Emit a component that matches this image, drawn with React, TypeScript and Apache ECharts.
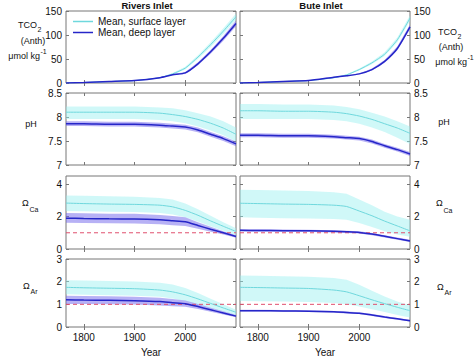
import React, { useEffect, useRef } from 'react';
import * as echarts from 'echarts';

const YEARS = [1765, 1800, 1850, 1900, 1950, 1975, 2000, 2025, 2050, 2075, 2100];
const X_TICKS = [1800, 1900, 2000];

// Rivers Inlet — anthropogenic TCO2
const RIV_TCO2_SURF = [0, 1, 3, 5, 11, 19, 31, 54, 80, 108, 138];
const RIV_TCO2_SURF_LO = [0, 1, 3, 5, 10, 17, 28, 50, 75, 102, 131];
const RIV_TCO2_SURF_HI = [0, 1, 3, 5, 12, 21, 34, 58, 85, 114, 145];
const RIV_TCO2_DEEP = [0, 1, 3, 5, 11, 17, 21, 40, 65, 93, 124];
const RIV_TCO2_DEEP_LO = [0, 1, 3, 5, 10, 16, 19, 37, 61, 88, 118];
const RIV_TCO2_DEEP_HI = [0, 1, 3, 5, 12, 18, 23, 43, 69, 98, 130];
// Bute Inlet — anthropogenic TCO2
const BUT_TCO2_SURF = [0, 1, 3, 5, 11, 17, 28, 42, 60, 90, 135];
const BUT_TCO2_SURF_LO = [0, 1, 3, 5, 10, 16, 26, 39, 56, 85, 129];
const BUT_TCO2_SURF_HI = [0, 1, 3, 5, 12, 18, 30, 45, 64, 95, 141];
const BUT_TCO2_DEEP = [0, 1, 3, 5, 12, 15, 19, 28, 45, 72, 117];
const BUT_TCO2_DEEP_LO = [0, 1, 3, 5, 11, 14, 18, 26, 42, 68, 112];
const BUT_TCO2_DEEP_HI = [0, 1, 3, 5, 13, 16, 20, 30, 48, 76, 122];

// pH
const RIV_PH_SURF = [8.1, 8.1, 8.1, 8.1, 8.08, 8.05, 8.01, 7.95, 7.87, 7.77, 7.64];
const RIV_PH_SURF_LO = [7.96, 7.96, 7.96, 7.96, 7.94, 7.91, 7.87, 7.8, 7.72, 7.62, 7.49];
const RIV_PH_SURF_HI = [8.22, 8.22, 8.22, 8.22, 8.2, 8.18, 8.14, 8.08, 8.01, 7.91, 7.78];
const RIV_PH_DEEP = [7.86, 7.86, 7.85, 7.85, 7.83, 7.81, 7.79, 7.73, 7.64, 7.55, 7.44];
const RIV_PH_DEEP_LO = [7.81, 7.81, 7.8, 7.8, 7.78, 7.76, 7.74, 7.68, 7.59, 7.5, 7.39];
const RIV_PH_DEEP_HI = [7.91, 7.91, 7.9, 7.9, 7.88, 7.86, 7.84, 7.78, 7.69, 7.6, 7.49];
const BUT_PH_SURF = [8.13, 8.13, 8.12, 8.12, 8.1, 8.07, 8.02, 7.95, 7.86, 7.77, 7.66];
const BUT_PH_SURF_LO = [7.96, 7.96, 7.96, 7.96, 7.94, 7.91, 7.86, 7.78, 7.69, 7.57, 7.44];
const BUT_PH_SURF_HI = [8.27, 8.27, 8.26, 8.26, 8.24, 8.21, 8.16, 8.09, 8.01, 7.91, 7.8];
const BUT_PH_DEEP = [7.62, 7.62, 7.61, 7.61, 7.59, 7.57, 7.55, 7.49, 7.4, 7.32, 7.23];
const BUT_PH_DEEP_LO = [7.58, 7.58, 7.57, 7.57, 7.55, 7.53, 7.51, 7.45, 7.36, 7.28, 7.19];
const BUT_PH_DEEP_HI = [7.66, 7.66, 7.65, 7.65, 7.63, 7.61, 7.59, 7.53, 7.44, 7.36, 7.27];

// Omega calcite
const RIV_CA_SURF = [2.83, 2.8, 2.77, 2.75, 2.7, 2.6, 2.38, 2.08, 1.73, 1.4, 1.08];
const RIV_CA_SURF_LO = [2.35, 2.33, 2.3, 2.28, 2.22, 2.12, 1.95, 1.7, 1.4, 1.12, 0.85];
const RIV_CA_SURF_HI = [3.3, 3.28, 3.25, 3.22, 3.15, 3.05, 2.8, 2.45, 2.05, 1.65, 1.28];
const RIV_CA_DEEP = [1.9, 1.88, 1.86, 1.85, 1.8, 1.74, 1.68, 1.45, 1.22, 1.0, 0.77];
const RIV_CA_DEEP_LO = [1.62, 1.6, 1.58, 1.57, 1.52, 1.47, 1.42, 1.25, 1.07, 0.9, 0.7];
const RIV_CA_DEEP_HI = [2.22, 2.2, 2.18, 2.17, 2.1, 2.03, 1.95, 1.65, 1.37, 1.1, 0.84];
const BUT_CA_SURF = [2.82, 2.8, 2.77, 2.75, 2.7, 2.62, 2.34, 2.05, 1.72, 1.42, 1.12];
const BUT_CA_SURF_LO = [1.95, 1.93, 1.9, 1.88, 1.85, 1.8, 1.6, 1.35, 1.1, 0.9, 0.75];
const BUT_CA_SURF_HI = [3.65, 3.63, 3.6, 3.57, 3.5, 3.4, 3.05, 2.7, 2.3, 2.0, 1.8];
const BUT_CA_DEEP = [1.15, 1.14, 1.13, 1.12, 1.09, 1.06, 1.02, 0.92, 0.78, 0.64, 0.5];
const BUT_CA_DEEP_LO = [1.08, 1.07, 1.06, 1.05, 1.02, 0.99, 0.95, 0.85, 0.71, 0.57, 0.43];
const BUT_CA_DEEP_HI = [1.22, 1.21, 1.2, 1.19, 1.16, 1.13, 1.09, 0.99, 0.85, 0.71, 0.57];

// Omega aragonite
const RIV_AR_SURF = [1.75, 1.73, 1.71, 1.69, 1.63, 1.55, 1.42, 1.24, 1.04, 0.84, 0.65];
const RIV_AR_SURF_LO = [1.44, 1.42, 1.4, 1.38, 1.33, 1.26, 1.15, 0.99, 0.84, 0.68, 0.52];
const RIV_AR_SURF_HI = [2.06, 2.05, 2.03, 2.01, 1.95, 1.87, 1.72, 1.5, 1.25, 1.0, 0.76];
const RIV_AR_DEEP = [1.2, 1.19, 1.18, 1.16, 1.12, 1.07, 1.03, 0.9, 0.76, 0.62, 0.48];
const RIV_AR_DEEP_LO = [1.02, 1.01, 1.0, 0.99, 0.95, 0.92, 0.89, 0.79, 0.67, 0.55, 0.43];
const RIV_AR_DEEP_HI = [1.38, 1.37, 1.36, 1.34, 1.29, 1.23, 1.17, 1.01, 0.85, 0.69, 0.53];
const BUT_AR_SURF = [1.75, 1.74, 1.72, 1.7, 1.63, 1.55, 1.38, 1.2, 1.03, 0.87, 0.72];
const BUT_AR_SURF_LO = [1.15, 1.14, 1.12, 1.1, 1.06, 1.0, 0.9, 0.78, 0.66, 0.53, 0.42];
const BUT_AR_SURF_HI = [2.27, 2.26, 2.24, 2.22, 2.16, 2.08, 1.86, 1.6, 1.35, 1.12, 0.95];
const BUT_AR_DEEP = [0.72, 0.72, 0.71, 0.7, 0.67, 0.64, 0.61, 0.53, 0.44, 0.36, 0.28];
const BUT_AR_DEEP_LO = [0.68, 0.68, 0.67, 0.66, 0.63, 0.6, 0.57, 0.49, 0.4, 0.32, 0.24];
const BUT_AR_DEEP_HI = [0.76, 0.76, 0.75, 0.74, 0.71, 0.68, 0.65, 0.57, 0.48, 0.4, 0.32];

const TCO2_TICKS = [0, 50, 100, 150];
const PH_TICKS = [7, 7.5, 8, 8.5];
const CA_TICKS = [0, 2, 4];
const AR_TICKS = [0, 1, 2, 3];
const SATURATION = 1;

const TITLES = ['Rivers Inlet', 'Bute Inlet'];
const LEGEND_NAMES = ['Mean, surface layer', 'Mean, deep layer'];

const FONT = "'Liberation Sans', Arial, Helvetica, sans-serif";
const C_SURF_BAND = 'rgba(150,240,240,0.45)';
const C_SURF_LINE = '#6fd8dd';
const C_DEEP_BAND = 'rgba(112,100,236,0.5)';
const C_DEEP_LINE = '#2626c8';
const C_AXIS = '#777';
const C_TEXT = '#111';

const ROWS = [
  { top: 11, height: 72, min: 0, max: 150, ticks: TCO2_TICKS, sat: false,
    data: [
      [RIV_TCO2_SURF, RIV_TCO2_SURF_LO, RIV_TCO2_SURF_HI, RIV_TCO2_DEEP, RIV_TCO2_DEEP_LO, RIV_TCO2_DEEP_HI],
      [BUT_TCO2_SURF, BUT_TCO2_SURF_LO, BUT_TCO2_SURF_HI, BUT_TCO2_DEEP, BUT_TCO2_DEEP_LO, BUT_TCO2_DEEP_HI],
    ] },
  { top: 93, height: 72, min: 7, max: 8.5, ticks: PH_TICKS, sat: false,
    data: [
      [RIV_PH_SURF, RIV_PH_SURF_LO, RIV_PH_SURF_HI, RIV_PH_DEEP, RIV_PH_DEEP_LO, RIV_PH_DEEP_HI],
      [BUT_PH_SURF, BUT_PH_SURF_LO, BUT_PH_SURF_HI, BUT_PH_DEEP, BUT_PH_DEEP_LO, BUT_PH_DEEP_HI],
    ] },
  { top: 176, height: 73, min: 0, max: 4.5, ticks: CA_TICKS, sat: true,
    data: [
      [RIV_CA_SURF, RIV_CA_SURF_LO, RIV_CA_SURF_HI, RIV_CA_DEEP, RIV_CA_DEEP_LO, RIV_CA_DEEP_HI],
      [BUT_CA_SURF, BUT_CA_SURF_LO, BUT_CA_SURF_HI, BUT_CA_DEEP, BUT_CA_DEEP_LO, BUT_CA_DEEP_HI],
    ] },
  { top: 259, height: 73, min: 0, max: 3, ticks: AR_TICKS, sat: true,
    data: [
      [RIV_AR_SURF, RIV_AR_SURF_LO, RIV_AR_SURF_HI, RIV_AR_DEEP, RIV_AR_DEEP_LO, RIV_AR_DEEP_HI],
      [BUT_AR_SURF, BUT_AR_SURF_LO, BUT_AR_SURF_HI, BUT_AR_DEEP, BUT_AR_DEEP_LO, BUT_AR_DEEP_HI],
    ] },
];
const COLS = [
  { left: 66, width: 170 },
  { left: 240, width: 170 },
];

function pts(vals: number[]) {
  return YEARS.map((y, i) => [y, vals[i]]);
}

function bandSeries(g: number, lo: number[], hi: number[], color: string) {
  const data = YEARS.map((y, i) => [y, lo[i], hi[i]]);
  return {
    type: 'custom', xAxisIndex: 2 * g, yAxisIndex: 2 * g, silent: true, clip: true,
    encode: { x: 0, y: [1, 2] },
    data,
    renderItem: (params: any, api: any) => {
      if (params.dataIndex !== 0) return null;
      const top = data.map((d) => api.coord([d[0], d[2]]));
      const bottom = data.map((d) => api.coord([d[0], d[1]])).reverse();
      return {
        type: 'polygon',
        shape: { points: top.concat(bottom) },
        style: { fill: color, stroke: 'none' },
      };
    },
  };
}

function txt(x: number, y: number, text: string, size: number, align = 'left', weight = 'normal') {
  return {
    type: 'text', x, y, silent: true,
    style: { text, fill: C_TEXT, fontSize: size, fontFamily: FONT, fontWeight: weight, align, verticalAlign: 'middle' },
  };
}

function buildOption() {
  const grids: any[] = [];
  const xAxes: any[] = [];
  const yAxes: any[] = [];
  const series: any[] = [];
  let g = 0;
  ROWS.forEach((row, r) => {
    COLS.forEach((col, c) => {
      grids.push({
        left: col.left, top: row.top, width: col.width, height: row.height,
        show: true, borderColor: C_AXIS, borderWidth: 1, backgroundColor: '#fff',
      });
      const isBottom = r === ROWS.length - 1;
      const xBase = {
        gridIndex: g, type: 'value', min: 1765, max: 2100,
        axisLine: { show: false }, splitLine: { show: false },
        axisTick: { inside: true, length: 3, customValues: X_TICKS, lineStyle: { color: C_AXIS } },
      };
      xAxes.push({
        ...xBase, position: 'bottom',
        axisLabel: { show: isBottom, customValues: X_TICKS, formatter: (v: number) => String(v), fontSize: 10, color: C_TEXT, fontFamily: FONT, margin: 5 },
        name: isBottom ? 'Year' : '', nameLocation: 'middle', nameGap: 20,
        nameTextStyle: { fontSize: 10, color: C_TEXT, fontFamily: FONT },
      });
      xAxes.push({ ...xBase, position: 'top', axisLabel: { show: false } });
      const yBase = {
        gridIndex: g, type: 'value', min: row.min, max: row.max,
        axisLine: { show: false }, splitLine: { show: false },
        axisTick: { inside: true, length: 3, customValues: row.ticks, lineStyle: { color: C_AXIS } },
      };
      yAxes.push({
        ...yBase, position: 'left',
        axisLabel: { show: c === 0, customValues: row.ticks, formatter: (v: number) => String(v), fontSize: 10, color: C_TEXT, fontFamily: FONT, margin: 4 },
      });
      yAxes.push({
        ...yBase, position: 'right',
        axisLabel: { show: c === 1, customValues: row.ticks, formatter: (v: number) => String(v), fontSize: 10, color: C_TEXT, fontFamily: FONT, margin: 4 },
      });
      const [sM, sL, sH, dM, dL, dH] = row.data[c];
      const ax = { xAxisIndex: 2 * g, yAxisIndex: 2 * g, symbol: 'none', silent: true, smooth: 0.2 };
      series.push(bandSeries(g, sL, sH, C_SURF_BAND));
      series.push(bandSeries(g, dL, dH, C_DEEP_BAND));
      if (row.sat) {
        series.push({ ...ax, smooth: false, type: 'line', name: 'sat-' + g, data: [[1765, SATURATION], [2100, SATURATION]], lineStyle: { color: '#e0506e', width: 1, type: [4, 3] } });
      }
      series.push({ ...ax, type: 'line', name: LEGEND_NAMES[0], data: pts(sM), lineStyle: { color: C_SURF_LINE, width: 1 }, itemStyle: { color: C_SURF_LINE } });
      series.push({ ...ax, type: 'line', name: LEGEND_NAMES[1], data: pts(dM), lineStyle: { color: C_DEEP_LINE, width: 1.5 }, itemStyle: { color: C_DEEP_LINE } });
      g++;
    });
  });

  const graphic: any[] = [
    txt(147, 5, TITLES[0], 9.5, 'center', 'bold'),
    txt(321, 5, TITLES[1], 9.5, 'center', 'bold'),
    // left labels
    txt(18, 25, 'TCO', 9),
    txt(37.5, 29, '2', 7),
    txt(33, 41, '(Anth)', 9, 'center'),
    txt(40, 56, 'μmol kg', 9, 'right'),
    txt(40.5, 51, '-1', 7),
    txt(31, 124, 'pH', 9, 'center'),
    txt(22, 203, 'Ω', 9),
    txt(29.5, 209, 'Ca', 7),
    txt(23, 286, 'Ω', 9),
    txt(30.5, 291.5, 'Ar', 7),
    // right labels
    txt(438, 32, 'TCO', 9),
    txt(457.5, 36, '2', 7),
    txt(451, 47, '(Anth)', 9, 'center'),
    txt(467, 62, 'μmol kg', 9, 'right'),
    txt(467.5, 57, '-1', 7),
    txt(444, 122, 'pH', 9, 'center'),
    txt(436, 203, 'Ω', 9),
    txt(443.5, 210, 'Ca', 7),
    txt(437, 287, 'Ω', 9),
    txt(444.5, 292, 'Ar', 7),
  ];

  return {
    animation: false,
    backgroundColor: '#fff',
    grid: grids,
    xAxis: xAxes,
    yAxis: yAxes,
    series,
    legend: {
      show: true, left: 73, top: 16, orient: 'vertical', padding: 0,
      icon: 'rect', itemWidth: 20, itemHeight: 1.5, itemGap: 0,
      data: LEGEND_NAMES,
      textStyle: { fontSize: 10, color: C_TEXT, fontFamily: FONT, lineHeight: 11 },
      selectedMode: false,
    },
    graphic,
  };
}

export default function App() {
  const ref = useRef<HTMLDivElement>(null);
  useEffect(() => {
    if (!ref.current) return;
    const chart = echarts.init(ref.current, undefined, { renderer: 'svg' });
    chart.setOption(buildOption() as any);
    return () => chart.dispose();
  }, []);
  return <div ref={ref} style={{ position: 'fixed', left: 0, top: 0, width: 474, height: 358 }} />;
}
